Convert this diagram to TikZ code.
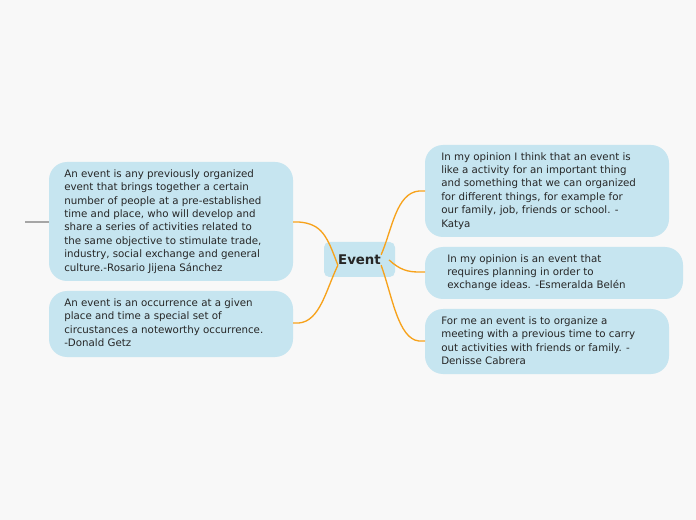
\documentclass[tikz,border=0pt]{standalone}
\usepackage{fontspec}
\setmainfont{DejaVu Sans}
\begin{document}
\begin{tikzpicture}[x=0.75pt,y=-0.75pt,
 box/.style={fill=boxc,draw=none,rounded corners=13.5pt},
 txt/.style={anchor=north west,align=left,inner sep=0pt,font=\fontsize{7.7}{10.1}\selectfont,text=black!85},
 conn/.style={draw=orangec,line width=1pt}]
\definecolor{boxc}{HTML}{C6E5F0}
\definecolor{orangec}{HTML}{F7A21B}
\definecolor{bgc}{HTML}{F8F8F8}
\fill[bgc] (0,0) rectangle (696,520);
\useasboundingbox (0,0) rectangle (696,520);
% boxes
\fill[box] (49,162) rectangle (293,281);
\fill[box] (49,291) rectangle (293,357);
\fill[box] (425,145) rectangle (669,237);
\fill[box] (425,247) rectangle (683,299);
\fill[box] (425,309) rectangle (669,374);
\fill[boxc,rounded corners=4pt] (324,242) rectangle (395,277);
\node[inner sep=0pt,font=\bfseries\fontsize{10}{12}\selectfont,text=black!85] (ev) at (359.5,260) {Event};
\node[txt,text width=230\pgflinewidth] (l1) at (64,169) {};
\node[txt] (l1t) at (64,169) {An event is any previously organized\\event that brings together a certain\\number of people at a pre-established\\time and place, who will develop and\\share a series of activities related to\\the same objective to stimulate trade,\\industry, social exchange and general\\culture.-Rosario Jijena Sánchez};
\node[txt] (l2t) at (64,298) {An event is an occurrence at a given\\place and time a special set of\\circustances a noteworthy occurrence.\\-Donald Getz};
\node[txt] (r1t) at (441,152) {In my opinion I think that an event is\\like a activity for an important thing\\and something that we can organized\\for different things, for example for\\our family, job, friends or school. -\\Katya};
\node[txt] (r2t) at (447,254) {In my opinion is an event that\\requires planning in order to\\exchange ideas. -Esmeralda Belén};
\node[txt] (r3t) at (441,316) {For me an event is to organize a\\meeting with a previous time to carry\\out activities with friends or family. -\\Denisse Cabrera};
% anchor coordinates
\coordinate (lA) at (293,222); \coordinate (lB) at (293,323);
\coordinate (rA) at (425,191); \coordinate (rB) at (425,272); \coordinate (rC) at (425,341);
\coordinate (g0) at (25,222); \coordinate (g1) at (49,222);
\draw[gray!70,line width=1pt] (g0) -- (g1);
\draw[conn] (lA) -- ++(6,0) .. controls (322,224) and (327,236) .. (ev.south west);
\draw[conn] (lB) -- ++(6,0) .. controls (320,321) and (326,290) .. (ev.south west);
\draw[conn] (rA) -- ++(-6,0) .. controls (396,193) and (392,230) .. (ev.north east);
\draw[conn] (rB) -- ++(-6,0) .. controls (408,272) and (400,270) .. ([xshift=6pt]ev.east);
\draw[conn] (rC) -- ++(-6,0) .. controls (398,339) and (392,295) .. (ev.south east);
\end{tikzpicture}
\end{document}
